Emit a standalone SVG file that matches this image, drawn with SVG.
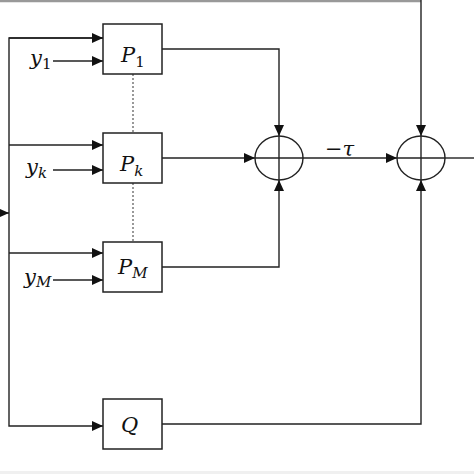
<svg xmlns="http://www.w3.org/2000/svg" width="474" height="474" viewBox="0 0 474 474">
<style>
.ln{fill:none;stroke:#222;stroke-width:1.4}
.bx{fill:#fff;stroke:#222;stroke-width:1.5}
.dot{fill:none;stroke:#555;stroke-width:1.2;stroke-dasharray:2 2}
.t{font-family:"DejaVu Serif","Liberation Serif",serif;font-style:italic;font-size:21px;fill:#111}
.s{font-size:15px;font-family:"DejaVu Serif","Liberation Serif",serif}
</style>
<defs>
<marker id="ah" markerUnits="userSpaceOnUse" markerWidth="11" markerHeight="10" refX="11" refY="5" orient="auto">
<path d="M0,0 L11,5 L0,10 Z" fill="#111"/>
</marker>
</defs>
<rect x="0" y="0" width="474" height="474" fill="#fff"/>
<line x1="0" y1="1" x2="421" y2="1" stroke="#999" stroke-width="2.5"/>
<rect x="0" y="471" width="474" height="3" fill="#f0f0f0"/>
<g id="connectors">
<polyline class="ln" points="103,38 9,38 9,426 103,426" marker-end="url(#ah)"/>
<line class="ln" x1="9" y1="145" x2="103" y2="145" marker-end="url(#ah)"/>
<line class="ln" x1="9" y1="253" x2="103" y2="253" marker-end="url(#ah)"/>
<line class="ln" x1="9" y1="38" x2="103" y2="38" marker-end="url(#ah)"/>
<line class="ln" x1="-4" y1="213" x2="9" y2="213" marker-end="url(#ah)"/>
<line class="ln" x1="53" y1="61" x2="103" y2="61" marker-end="url(#ah)"/>
<line class="ln" x1="53" y1="170" x2="103" y2="170" marker-end="url(#ah)"/>
<line class="ln" x1="53" y1="280" x2="103" y2="280" marker-end="url(#ah)"/>
<line class="dot" x1="133" y1="74" x2="133" y2="133"/>
<line class="dot" x1="133" y1="183" x2="133" y2="242"/>
<polyline class="ln" points="162,49 279,49 279,136" marker-end="url(#ah)"/>
<line class="ln" x1="162" y1="158" x2="255" y2="158" marker-end="url(#ah)"/>
<polyline class="ln" points="162,267 279,267 279,180" marker-end="url(#ah)"/>
<line class="ln" x1="303" y1="158" x2="397" y2="158" marker-end="url(#ah)"/>
<line class="ln" x1="421" y1="0" x2="421" y2="136" marker-end="url(#ah)"/>
<polyline class="ln" points="162,424 421,424 421,180" marker-end="url(#ah)"/>
<line class="ln" x1="445" y1="158" x2="474" y2="158"/>
<text class="t" x="325" y="156">−τ</text>
</g>
<g id="y1"><text class="t" x="30" y="65">y<tspan class="s" dy="4" font-style="normal">1</tspan></text></g>
<g id="yk"><text class="t" x="26" y="174">y<tspan class="s" dy="4">k</tspan></text></g>
<g id="yM"><text class="t" x="24" y="284">y<tspan class="s" dy="3">M</tspan></text></g>
<g id="P1"><rect class="bx" x="103" y="24" width="59" height="50"/><text class="t" x="121" y="62">P<tspan class="s" dy="5" font-style="normal">1</tspan></text></g>
<g id="Pk"><rect class="bx" x="103" y="133" width="59" height="50"/><text class="t" x="120" y="171">P<tspan class="s" dy="5">k</tspan></text></g>
<g id="PM"><rect class="bx" x="103" y="242" width="59" height="50"/><text class="t" x="118" y="274">P<tspan class="s" dy="4">M</tspan></text></g>
<g id="Q"><rect class="bx" x="103" y="399" width="59" height="50"/><text class="t" x="121" y="432">Q</text></g>
<g id="sum1"><ellipse class="ln" cx="279" cy="158" rx="24" ry="22"/><line class="ln" x1="255" y1="158" x2="303" y2="158"/><line class="ln" x1="279" y1="136" x2="279" y2="180"/></g>
<g id="sum2"><ellipse class="ln" cx="421" cy="158" rx="24" ry="22"/><line class="ln" x1="397" y1="158" x2="445" y2="158"/><line class="ln" x1="421" y1="136" x2="421" y2="180"/></g>
</svg>
